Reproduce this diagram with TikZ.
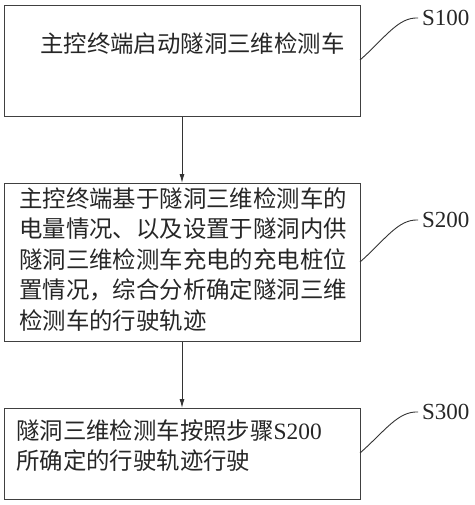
\documentclass[tikz,border=0pt]{standalone}
\usepackage{fontspec}
\setmainfont{Liberation Serif}
\newfontfamily\cjk{Noto Sans CJK SC}
\usetikzlibrary{arrows.meta}
\begin{document}
\begin{tikzpicture}[x=1pt,y=-1pt,
  box/.style={draw=black!75,line width=1.1pt,inner sep=0pt,anchor=north west},
  txt/.style={anchor=north west,inner sep=0pt,align=left,font=\cjk\fontsize{23.4}{30.5}\selectfont,text=black!85},
  lbl/.style={anchor=west,inner sep=0pt,font=\fontsize{23}{25}\selectfont,text=black!85},
  arr/.style={draw=black!80,line width=1pt,-{Latex[length=9pt,width=5pt]}},
  lead/.style={draw=black!80,line width=0.9pt}]
\useasboundingbox (0,0) rectangle (474,505);
\node[box,minimum width=356pt,minimum height=111pt] (b1) at (4,5) {};
\node[box,minimum width=356pt,minimum height=158pt] (b2) at (4,183) {};
\node[box,minimum width=356pt,minimum height=91pt] (b3) at (4,408) {};
\node[txt] (t1) at (40,32) {主控终端启动隧洞三维检测车};
\node[txt] (t2) at (19,187) {主控终端基于隧洞三维检测车的\\电量情况、以及设置于隧洞内供\\隧洞三维检测车充电的充电桩位\\置情况，综合分析确定隧洞三维\\检测车的行驶轨迹};
\node[txt] (t3) at (16,419) {隧洞三维检测车按照步骤{\rmfamily S200}\\所确定的行驶轨迹行驶};
\draw[arr] (b1.south -| 182,0) -- (b2.north -| 182,0);
\draw[arr] (b2.south -| 182,0) -- (b3.north -| 182,0);
\node[lbl] (l1) at (422,18) {S100};
\node[lbl] (l2) at (422,220) {S200};
\node[lbl] (l3) at (422,412) {S300};
\coordinate (c1) at (360,60);
\coordinate (c2) at (360,262);
\coordinate (c3) at (360,453);
\draw[lead] (c1) .. controls (385,38) and (398,17) .. ([xshift=-4pt]l1.west);
\draw[lead] (c2) .. controls (385,240) and (398,219) .. ([xshift=-4pt]l2.west);
\draw[lead] (c3) .. controls (385,431) and (398,411) .. ([xshift=-4pt]l3.west);
\end{tikzpicture}
\end{document}
